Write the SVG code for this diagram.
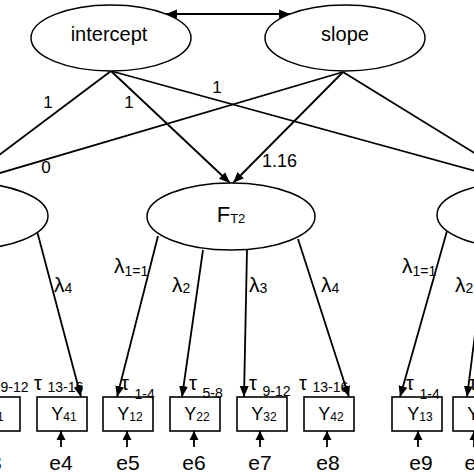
<svg xmlns="http://www.w3.org/2000/svg" width="474" height="474" viewBox="0 0 474 474">
<defs>
<marker id="ah" markerUnits="userSpaceOnUse" markerWidth="12" markerHeight="10" refX="11" refY="5" orient="auto-start-reverse">
<path d="M0,0.5 L11,5 L0,9.5 Z" fill="#000"/>
</marker>
<marker id="ahs" markerUnits="userSpaceOnUse" markerWidth="10" markerHeight="10" refX="9" refY="5" orient="auto">
<path d="M0,0.5 L9,5 L0,9.5 Z" fill="#000"/>
</marker>
</defs>
<style>
.e{fill:#fff;stroke:#000;stroke-width:1.5}
.b{fill:#fff;stroke:#000;stroke-width:1.6}
.c{stroke:#000;stroke-width:1.8;fill:none}
.ca{stroke:#000;stroke-width:1.8;fill:none;marker-end:url(#ah)}
.er{stroke:#000;stroke-width:1.8;fill:none;marker-end:url(#ahs)}
text{font-family:"Liberation Sans",Arial,sans-serif;fill:#000}
.big{font-size:20px;text-anchor:middle}
.num{font-size:17px}
.lam{font-size:21px}
.sub{font-size:14px}
.y{font-size:18px;text-anchor:middle}
.ys{font-size:12px}
.el{font-size:21px;text-anchor:middle}
.tau{font-size:20px}
.ts{font-size:14px}
</style>
<g id="connectors">
<line class="c" x1="166" y1="14" x2="290" y2="14" style="marker-start:url(#ah);marker-end:url(#ah)"/>
<line class="ca" x1="111" y1="71" x2="-38" y2="183"/>
<line class="ca" x1="111" y1="71" x2="230" y2="183"/>
<line class="ca" x1="111" y1="71" x2="519" y2="183"/>
<line class="ca" x1="343" y1="72" x2="-34" y2="183"/>
<line class="ca" x1="343" y1="72" x2="233" y2="183"/>
<line class="ca" x1="343" y1="72" x2="523" y2="183"/>
<line class="ca" x1="37" y1="231" x2="81" y2="397"/>
<line class="ca" x1="158" y1="236" x2="117" y2="397"/>
<line class="ca" x1="203" y1="250" x2="182" y2="397"/>
<line class="ca" x1="247" y1="250" x2="244" y2="397"/>
<line class="ca" x1="298" y1="239" x2="349" y2="397"/>
<line class="ca" x1="447" y1="231" x2="400" y2="397"/>
<line class="ca" x1="486" y1="248" x2="467" y2="397"/>
<line class="er" x1="-6" y1="447" x2="-6" y2="431"/>
<line class="er" x1="61" y1="447" x2="61" y2="431"/>
<line class="er" x1="127" y1="447" x2="127" y2="431"/>
<line class="er" x1="194" y1="447" x2="194" y2="431"/>
<line class="er" x1="260" y1="447" x2="260" y2="431"/>
<line class="er" x1="327" y1="447" x2="327" y2="431"/>
<line class="er" x1="418" y1="447" x2="418" y2="431"/>
<line class="er" x1="474" y1="447" x2="474" y2="431"/>
<text class="num" x="48" y="108" text-anchor="middle">1</text>
<text class="num" x="129" y="108" text-anchor="middle">1</text>
<text class="num" x="217" y="93" text-anchor="middle">1</text>
<text class="num" x="46" y="173" text-anchor="middle">0</text>
<text class="num" x="262" y="167" style="font-size:18px">1.16</text>
<text class="lam" x="54" y="292">λ<tspan class="sub" dy="1">4</tspan></text>
<text class="lam" x="114" y="273">λ<tspan class="sub" dy="3">1=1</tspan></text>
<text class="lam" x="172" y="292">λ<tspan class="sub" dy="1">2</tspan></text>
<text class="lam" x="249" y="292">λ<tspan class="sub" dy="1">3</tspan></text>
<text class="lam" x="321" y="292">λ<tspan class="sub" dy="1">4</tspan></text>
<text class="lam" x="402" y="273">λ<tspan class="sub" dy="3">1=1</tspan></text>
<text class="lam" x="455" y="292">λ<tspan class="sub" dy="1">2</tspan></text>
</g>
<g id="intercept"><ellipse class="e" cx="111" cy="38" rx="80" ry="33"/><text class="big" x="109" y="41">intercept</text></g>
<g id="slope"><ellipse class="e" cx="345" cy="38" rx="80" ry="33"/><text class="big" x="345" y="41">slope</text></g>
<g id="FT1"><ellipse class="e" cx="-36" cy="216" rx="84" ry="33.5"/></g>
<g id="FT2"><ellipse class="e" cx="231" cy="216.5" rx="84" ry="33.5"/><text x="231" y="222" text-anchor="middle" style="font-size:22px">F<tspan style="font-size:13px" dy="1">T2</tspan></text></g>
<g id="FT3"><ellipse class="e" cx="521" cy="215" rx="84" ry="33.5"/></g>
<g id="Y31"><rect class="b" x="-30" y="397" width="50" height="34"/><text class="y" x="-9" y="420">Y<tspan class="ys" dy="1">31</tspan></text><text class="el" x="-10" y="470">e3</text></g>
<g id="Y41"><rect class="b" x="37" y="397" width="50" height="34"/><text class="y" x="64" y="420">Y<tspan class="ys" dy="1">41</tspan></text><text class="el" x="61" y="470">e4</text></g>
<g id="Y12"><rect class="b" x="103" y="397" width="50" height="34"/><text class="y" x="130" y="420">Y<tspan class="ys" dy="1">12</tspan></text><text class="el" x="128" y="470">e5</text></g>
<g id="Y22"><rect class="b" x="170" y="397" width="50" height="34"/><text class="y" x="197" y="420">Y<tspan class="ys" dy="1">22</tspan></text><text class="el" x="194" y="470">e6</text></g>
<g id="Y32"><rect class="b" x="237" y="397" width="50" height="34"/><text class="y" x="264" y="420">Y<tspan class="ys" dy="1">32</tspan></text><text class="el" x="260" y="470">e7</text></g>
<g id="Y42"><rect class="b" x="304" y="397" width="50" height="34"/><text class="y" x="331" y="420">Y<tspan class="ys" dy="1">42</tspan></text><text class="el" x="328" y="470">e8</text></g>
<g id="Y13"><rect class="b" x="392" y="397" width="50" height="34"/><text class="y" x="420" y="420">Y<tspan class="ys" dy="1">13</tspan></text><text class="el" x="421" y="470">e9</text></g>
<g id="Y23"><rect class="b" x="453" y="397" width="50" height="34"/><text class="y" x="480" y="420">Y<tspan class="ys" dy="1">23</tspan></text><text class="el" x="482" y="470">e10</text></g>
<g id="thresholds">
<text class="tau" x="-13" y="390">τ <tspan class="ts" dy="2">9-12</tspan></text>
<text class="tau" x="34" y="390">τ <tspan class="ts" dy="2">13-16</tspan></text>
<text class="tau" x="121" y="390">τ <tspan class="ts" dy="9">1-4</tspan></text>
<text class="tau" x="189" y="390">τ <tspan class="ts" dy="8">5-8</tspan></text>
<text class="tau" x="249" y="390">τ <tspan class="ts" dy="6">9-12</tspan></text>
<text class="tau" x="299" y="390">τ <tspan class="ts" dy="2">13-16</tspan></text>
<text class="tau" x="406" y="390">τ <tspan class="ts" dy="9">1-4</tspan></text>
<text class="tau" x="469" y="390">τ <tspan class="ts" dy="8">5-8</tspan></text>
</g>
</svg>
